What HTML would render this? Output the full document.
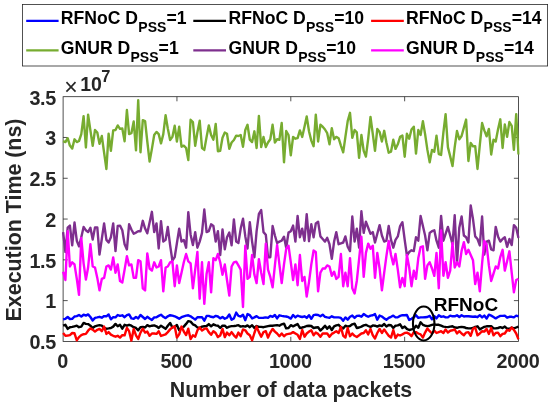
<!DOCTYPE html>
<html><head><meta charset="utf-8"><title>Execution Time</title>
<style>
html,body{margin:0;padding:0;background:#fff;}
svg{display:block;}
text{font-family:"Liberation Sans",sans-serif;font-weight:bold;fill:#262626;}
.lg{font-size:17.6px;fill:#000;}
.sub{font-size:14px;}
.tk{font-size:19.8px;letter-spacing:-0.3px;}
.ax{stroke:#262626;stroke-width:0.8;}
line.ax{fill:none;}
.ex{font-size:19.5px;}
.exs{font-size:16.4px;}
.lb{font-size:21.4px;}
.an{font-size:19px;fill:#000;}
</style></head><body>
<svg width="550" height="404" viewBox="0 0 550 404">
<rect x="0" y="0" width="550" height="404" fill="#fff"/>
<rect x="22.4" y="4.4" width="525.2" height="61.6" fill="#fff" class="ax"/>
<line x1="26.2" y1="20.9" x2="58.6" y2="20.9" stroke="#0000FF" stroke-width="2.4"/>
<text class="lg" x="60.8" y="24.2">RFNoC D<tspan class="sub" dy="7.9" dx="0.3">PSS</tspan><tspan dy="-7.9" dx="0.1">=1</tspan></text>
<line x1="193.3" y1="20.9" x2="226.0" y2="20.9" stroke="#000000" stroke-width="2.4"/>
<text class="lg" x="228.5" y="24.2">RFNoC D<tspan class="sub" dy="7.9" dx="0.3">PSS</tspan><tspan dy="-7.9" dx="0.1">=10</tspan></text>
<line x1="371.1" y1="20.9" x2="403.8" y2="20.9" stroke="#FF0000" stroke-width="2.4"/>
<text class="lg" x="406.1" y="24.2">RFNoC D<tspan class="sub" dy="7.9" dx="0.3">PSS</tspan><tspan dy="-7.9" dx="0.1">=14</tspan></text>
<line x1="26.2" y1="50.4" x2="58.6" y2="50.4" stroke="#77AC30" stroke-width="2.4"/>
<text class="lg" x="60.8" y="53.9">GNUR D<tspan class="sub" dy="7.9" dx="0.3">PSS</tspan><tspan dy="-7.9" dx="0.1">=1</tspan></text>
<line x1="193.3" y1="50.4" x2="226.0" y2="50.4" stroke="#7E2F8E" stroke-width="2.4"/>
<text class="lg" x="228.5" y="53.9">GNUR D<tspan class="sub" dy="7.9" dx="0.3">PSS</tspan><tspan dy="-7.9" dx="0.1">=10</tspan></text>
<line x1="371.1" y1="50.4" x2="403.8" y2="50.4" stroke="#FF00FF" stroke-width="2.4"/>
<text class="lg" x="406.1" y="53.9">GNUR D<tspan class="sub" dy="7.9" dx="0.3">PSS</tspan><tspan dy="-7.9" dx="0.1">=14</tspan></text>
<rect x="63.1" y="96.7" width="455.4" height="244.7" fill="#fff" class="ax"/>
<line x1="176.95" y1="341.4" x2="176.95" y2="336.8" class="ax"/>
<line x1="176.95" y1="96.7" x2="176.95" y2="101.3" class="ax"/>
<line x1="290.8" y1="341.4" x2="290.8" y2="336.8" class="ax"/>
<line x1="290.8" y1="96.7" x2="290.8" y2="101.3" class="ax"/>
<line x1="404.65" y1="341.4" x2="404.65" y2="336.8" class="ax"/>
<line x1="404.65" y1="96.7" x2="404.65" y2="101.3" class="ax"/>
<line x1="63.1" y1="300.62" x2="67.7" y2="300.62" class="ax"/>
<line x1="518.5" y1="300.62" x2="513.9" y2="300.62" class="ax"/>
<line x1="63.1" y1="259.83" x2="67.7" y2="259.83" class="ax"/>
<line x1="518.5" y1="259.83" x2="513.9" y2="259.83" class="ax"/>
<line x1="63.1" y1="219.05" x2="67.7" y2="219.05" class="ax"/>
<line x1="518.5" y1="219.05" x2="513.9" y2="219.05" class="ax"/>
<line x1="63.1" y1="178.27" x2="67.7" y2="178.27" class="ax"/>
<line x1="518.5" y1="178.27" x2="513.9" y2="178.27" class="ax"/>
<line x1="63.1" y1="137.48" x2="67.7" y2="137.48" class="ax"/>
<line x1="518.5" y1="137.48" x2="513.9" y2="137.48" class="ax"/>
<clipPath id="cp"><rect x="61.9" y="95.5" width="457.8" height="247.1"/></clipPath>
<g clip-path="url(#cp)" fill="none" stroke-width="2.4" stroke-linejoin="round">
<polyline points="63.1,319.3 65.4,318.8 67.7,317.0 69.9,319.0 72.2,318.8 74.5,316.5 76.8,316.1 79.0,315.0 81.3,316.5 83.6,314.7 85.9,315.6 88.1,314.4 90.4,317.0 92.7,320.5 95.0,317.9 97.3,317.4 99.5,316.8 101.8,317.7 104.1,316.1 106.4,316.3 108.6,314.4 110.9,319.3 113.2,317.2 115.5,317.4 117.7,315.0 120.0,315.9 122.3,315.3 124.6,317.2 126.9,315.2 129.1,314.4 131.4,318.4 133.7,318.8 136.0,317.0 138.2,318.4 140.5,315.0 142.8,317.0 145.1,319.0 147.3,316.8 149.6,318.4 151.9,319.9 154.2,317.4 156.5,317.2 158.7,315.9 161.0,314.7 163.3,316.8 165.6,318.1 167.8,316.3 170.1,315.2 172.4,315.6 174.7,316.3 176.9,317.4 179.2,318.8 181.5,317.2 183.8,316.3 186.1,315.6 188.3,315.3 190.6,316.3 192.9,317.9 195.2,319.6 197.4,317.2 199.7,317.2 202.0,317.2 204.3,320.7 206.6,315.9 208.8,315.9 211.1,316.8 213.4,317.2 215.7,315.9 217.9,316.5 220.2,318.4 222.5,317.0 224.8,318.8 227.0,317.7 229.3,314.4 231.6,319.7 233.9,318.4 236.2,312.6 238.4,315.9 240.7,316.5 243.0,314.7 245.3,320.2 247.5,314.1 249.8,315.2 252.1,318.4 254.4,317.4 256.6,316.1 258.9,317.9 261.2,317.9 263.5,317.7 265.8,317.4 268.0,317.9 270.3,315.9 272.6,316.8 274.9,315.0 277.1,318.4 279.4,315.3 281.7,315.9 284.0,316.3 286.2,316.5 288.5,317.2 290.8,318.6 293.1,315.0 295.4,317.4 297.6,315.6 299.9,316.5 302.2,317.0 304.5,316.3 306.7,317.9 309.0,315.2 311.3,318.8 313.6,315.2 315.8,314.7 318.1,315.0 320.4,316.3 322.7,314.7 325.0,316.8 327.2,317.4 329.5,317.7 331.8,316.3 334.1,317.4 336.3,317.4 338.6,317.4 340.9,317.9 343.2,320.7 345.4,317.4 347.7,319.7 350.0,316.8 352.3,315.6 354.6,317.9 356.8,315.9 359.1,315.6 361.4,316.8 363.7,314.1 365.9,315.6 368.2,316.8 370.5,315.6 372.8,315.3 375.0,314.1 377.3,319.7 379.6,315.6 381.9,316.5 384.2,318.4 386.4,319.7 388.7,317.9 391.0,316.8 393.3,315.6 395.5,317.4 397.8,317.2 400.1,315.9 402.4,315.2 404.7,315.3 406.9,315.0 409.2,319.9 411.5,318.8 413.8,317.4 416.0,315.2 418.3,317.9 420.6,317.4 422.9,317.4 425.1,317.2 427.4,317.0 429.7,315.9 432.0,319.3 434.3,316.1 436.5,318.4 438.8,315.2 441.1,316.8 443.4,316.3 445.6,317.4 447.9,317.4 450.2,315.6 452.5,316.3 454.7,316.3 457.0,315.3 459.3,317.0 461.6,315.2 463.9,316.5 466.1,316.1 468.4,316.3 470.7,316.5 473.0,316.8 475.2,316.5 477.5,317.2 479.8,315.2 482.1,317.4 484.3,315.6 486.6,318.6 488.9,314.7 491.2,315.6 493.5,317.0 495.7,318.4 498.0,317.0 500.3,315.9 502.6,315.9 504.8,315.6 507.1,317.7 509.4,316.8 511.7,316.8 513.9,317.4 516.2,315.6 518.5,316.3" stroke="#0000FF"/>
<polyline points="63.1,325.7 65.4,324.8 67.7,328.9 69.9,327.2 72.2,326.9 74.5,326.3 76.8,325.7 79.0,327.2 81.3,326.6 83.6,322.9 85.9,323.9 88.1,324.1 90.4,325.7 92.7,328.0 95.0,326.3 97.3,325.7 99.5,325.2 101.8,325.7 104.1,328.0 106.4,328.7 108.6,328.4 110.9,328.0 113.2,326.6 115.5,323.9 117.7,326.3 120.0,324.8 122.3,328.7 124.6,324.8 126.9,325.7 129.1,324.8 131.4,325.7 133.7,327.2 136.0,328.0 138.2,330.3 140.5,327.1 142.8,326.9 145.1,327.5 147.3,325.2 149.6,326.3 151.9,325.7 154.2,325.4 156.5,326.3 158.7,328.0 161.0,325.7 163.3,327.2 165.6,328.9 167.8,325.7 170.1,322.9 172.4,327.5 174.7,326.6 176.9,325.0 179.2,330.3 181.5,327.5 183.8,326.6 186.1,323.9 188.3,321.1 190.6,321.6 192.9,324.3 195.2,325.4 197.4,327.5 199.7,328.0 202.0,326.6 204.3,326.3 206.6,326.0 208.8,324.1 211.1,326.3 213.4,324.3 215.7,325.4 217.9,325.7 220.2,328.0 222.5,325.7 224.8,325.7 227.0,327.8 229.3,326.6 231.6,326.1 233.9,326.0 236.2,325.7 238.4,325.2 240.7,326.6 243.0,326.1 245.3,326.6 247.5,325.4 249.8,327.2 252.1,325.2 254.4,328.0 256.6,326.0 258.9,326.9 261.2,326.9 263.5,327.2 265.8,326.6 268.0,326.1 270.3,325.7 272.6,325.7 274.9,325.4 277.1,325.2 279.4,325.7 281.7,324.3 284.0,323.6 286.2,328.4 288.5,328.0 290.8,325.2 293.1,326.3 295.4,325.2 297.6,324.1 299.9,328.0 302.2,327.5 304.5,326.9 306.7,326.0 309.0,325.7 311.3,326.0 313.6,328.0 315.8,327.5 318.1,327.2 320.4,330.5 322.7,328.4 325.0,325.7 327.2,328.7 329.5,326.3 331.8,330.0 334.1,326.3 336.3,325.4 338.6,324.8 340.9,327.1 343.2,328.4 345.4,325.7 347.7,326.6 350.0,326.0 352.3,324.3 354.6,323.6 356.8,328.0 359.1,327.5 361.4,326.6 363.7,325.4 365.9,324.8 368.2,326.0 370.5,326.9 372.8,325.4 375.0,325.7 377.3,326.6 379.6,325.4 381.9,326.1 384.2,323.9 386.4,326.6 388.7,325.0 391.0,325.2 393.3,328.0 395.5,325.7 397.8,325.4 400.1,324.3 402.4,328.0 404.7,326.6 406.9,328.9 409.2,330.0 411.5,329.4 413.8,328.9 416.0,325.7 418.3,327.8 420.6,322.3 422.9,324.8 425.1,325.7 427.4,326.1 429.7,325.7 432.0,324.8 434.3,324.3 436.5,324.8 438.8,324.8 441.1,325.7 443.4,326.6 445.6,326.9 447.9,327.1 450.2,326.6 452.5,326.3 454.7,327.5 457.0,327.8 459.3,327.1 461.6,326.9 463.9,327.2 466.1,328.0 468.4,328.4 470.7,328.4 473.0,328.0 475.2,326.9 477.5,326.3 479.8,329.4 482.1,328.0 484.3,326.9 486.6,326.3 488.9,326.3 491.2,326.1 493.5,328.4 495.7,328.4 498.0,328.0 500.3,327.2 502.6,328.0 504.8,326.6 507.1,328.7 509.4,328.7 511.7,327.5 513.9,328.4 516.2,327.5 518.5,326.6" stroke="#000000"/>
<polyline points="63.1,333.0 65.4,335.8 67.7,335.5 69.9,335.1 72.2,333.0 74.5,333.3 76.8,340.3 79.0,337.1 81.3,335.1 83.6,334.2 85.9,333.9 88.1,330.7 90.4,328.4 92.7,329.6 95.0,331.6 97.3,329.8 99.5,328.9 101.8,331.2 104.1,326.6 106.4,333.9 108.6,332.1 110.9,334.6 113.2,335.8 115.5,336.7 117.7,335.8 120.0,337.6 122.3,335.1 124.6,335.3 126.9,327.8 129.1,331.2 131.4,340.6 133.7,328.9 136.0,335.3 138.2,339.0 140.5,332.6 142.8,328.7 145.1,332.6 147.3,331.6 149.6,335.8 151.9,333.5 154.2,333.5 156.5,333.9 158.7,331.2 161.0,336.0 163.3,335.1 165.6,334.4 167.8,332.1 170.1,329.4 172.4,327.5 174.7,326.3 176.9,337.6 179.2,334.4 181.5,326.6 183.8,331.5 186.1,335.1 188.3,328.7 190.6,339.0 192.9,335.3 195.2,336.7 197.4,330.3 199.7,327.5 202.0,330.5 204.3,328.9 206.6,328.4 208.8,332.1 211.1,334.8 213.4,331.2 215.7,333.0 217.9,337.1 220.2,335.5 222.5,328.9 224.8,337.1 227.0,332.6 229.3,335.3 231.6,332.1 233.9,335.3 236.2,337.6 238.4,332.6 240.7,336.2 243.0,329.4 245.3,330.3 247.5,333.5 249.8,335.3 252.1,340.3 254.4,333.0 256.6,326.6 258.9,332.1 261.2,336.7 263.5,332.1 265.8,331.2 268.0,337.6 270.3,332.6 272.6,328.9 274.9,331.6 277.1,333.5 279.4,336.2 281.7,333.5 284.0,336.2 286.2,334.4 288.5,333.9 290.8,333.5 293.1,332.1 295.4,333.5 297.6,334.8 299.9,339.0 302.2,330.0 304.5,336.7 306.7,333.5 309.0,331.6 311.3,330.3 313.6,335.3 315.8,332.6 318.1,333.9 320.4,336.7 322.7,333.5 325.0,333.5 327.2,333.5 329.5,336.7 331.8,333.9 334.1,332.6 336.3,331.2 338.6,333.0 340.9,327.1 343.2,335.8 345.4,337.6 347.7,328.0 350.0,336.2 352.3,333.5 354.6,335.8 356.8,337.0 359.1,335.3 361.4,333.5 363.7,333.0 365.9,330.3 368.2,334.4 370.5,328.9 372.8,335.3 375.0,338.5 377.3,333.0 379.6,328.9 381.9,333.0 384.2,329.4 386.4,332.6 388.7,335.8 391.0,337.6 393.3,330.0 395.5,338.1 397.8,334.6 400.1,335.5 402.4,334.4 404.7,333.0 406.9,332.6 409.2,333.9 411.5,336.2 413.8,332.1 416.0,332.1 418.3,333.5 420.6,334.4 422.9,337.6 425.1,332.6 427.4,328.4 429.7,331.2 432.0,333.5 434.3,330.7 436.5,333.0 438.8,332.1 441.1,331.2 443.4,333.0 445.6,329.4 447.9,332.6 450.2,330.7 452.5,330.3 454.7,329.4 457.0,333.5 459.3,331.2 461.6,333.5 463.9,335.3 466.1,332.6 468.4,332.1 470.7,335.8 473.0,328.7 475.2,327.5 477.5,335.3 479.8,333.5 482.1,331.2 484.3,331.6 486.6,328.9 488.9,333.9 491.2,328.0 493.5,335.3 495.7,333.0 498.0,332.6 500.3,336.2 502.6,333.9 504.8,333.5 507.1,330.0 509.4,330.7 511.7,327.5 513.9,329.8 516.2,333.5 518.5,339.4" stroke="#FF0000"/>
<polyline points="63.1,141.2 65.4,142.1 67.7,138.2 69.9,145.6 72.2,148.6 74.5,139.3 76.8,142.1 79.0,141.0 81.3,134.1 83.6,116.1 85.9,147.5 88.1,114.6 90.4,130.4 92.7,145.8 95.0,130.0 97.3,132.6 99.5,143.8 101.8,136.0 104.1,152.7 106.4,169.0 108.6,133.7 110.9,150.8 113.2,130.4 115.5,130.0 117.7,125.4 120.0,128.9 122.3,128.5 124.6,141.2 126.9,110.0 129.1,134.1 131.4,133.2 133.7,121.5 136.0,150.4 138.2,100.3 140.5,152.3 142.8,120.2 145.1,121.1 147.3,141.5 149.6,161.6 151.9,148.9 154.2,135.0 156.5,131.9 158.7,134.1 161.0,143.4 163.3,134.1 165.6,115.2 167.8,128.5 170.1,140.0 172.4,136.9 174.7,125.8 176.9,141.5 179.2,126.7 181.5,146.7 183.8,145.6 186.1,148.0 188.3,160.1 190.6,119.8 192.9,122.0 195.2,145.8 197.4,132.3 199.7,120.7 202.0,148.0 204.3,149.9 206.6,136.9 208.8,125.4 211.1,135.0 213.4,139.7 215.7,123.9 217.9,151.2 220.2,150.8 222.5,137.8 224.8,132.6 227.0,133.7 229.3,148.9 231.6,142.5 233.9,140.0 236.2,135.6 238.4,136.0 240.7,135.0 243.0,146.7 245.3,130.0 247.5,124.8 249.8,139.7 252.1,142.1 254.4,131.3 256.6,148.0 258.9,115.9 261.2,147.1 263.5,136.9 265.8,147.1 268.0,142.5 270.3,139.3 272.6,124.8 274.9,142.5 277.1,139.3 279.4,139.7 281.7,123.0 284.0,162.3 286.2,131.0 288.5,135.0 290.8,155.4 293.1,136.9 295.4,138.7 297.6,138.2 299.9,130.4 302.2,136.9 304.5,126.7 306.7,116.5 309.0,131.3 311.3,140.6 313.6,146.2 315.8,114.6 318.1,141.5 320.4,124.8 322.7,126.7 325.0,129.5 327.2,133.2 329.5,144.3 331.8,128.2 334.1,139.3 336.3,136.9 338.6,138.2 340.9,145.6 343.2,152.3 345.4,136.9 347.7,121.1 350.0,112.8 352.3,137.8 354.6,130.0 356.8,132.3 359.1,157.9 361.4,135.0 363.7,150.8 365.9,156.7 368.2,138.7 370.5,117.0 372.8,134.1 375.0,150.8 377.3,128.9 379.6,131.9 381.9,141.5 384.2,130.8 386.4,142.5 388.7,152.7 391.0,151.7 393.3,139.7 395.5,148.9 397.8,144.3 400.1,136.9 402.4,135.6 404.7,156.7 406.9,133.7 409.2,138.7 411.5,129.5 413.8,126.7 416.0,153.6 418.3,130.0 420.6,135.0 422.9,121.1 425.1,134.1 427.4,149.9 429.7,162.3 432.0,149.9 434.3,151.7 436.5,135.6 438.8,154.1 441.1,154.9 443.4,132.3 445.6,114.1 447.9,147.1 450.2,156.4 452.5,166.0 454.7,147.1 457.0,131.0 459.3,139.3 461.6,136.0 463.9,127.6 466.1,119.6 468.4,161.0 470.7,143.0 473.0,146.2 475.2,146.2 477.5,169.0 479.8,145.2 482.1,123.0 484.3,130.4 486.6,136.3 488.9,128.9 491.2,154.5 493.5,139.7 495.7,141.5 498.0,129.5 500.3,119.3 502.6,148.0 504.8,124.5 507.1,136.9 509.4,122.0 511.7,125.8 513.9,149.9 516.2,114.1 518.5,154.5" stroke="#77AC30"/>
<polyline points="63.1,232.1 65.4,252.0 67.7,227.7 69.9,225.6 72.2,245.4 74.5,222.5 76.8,240.7 79.0,246.4 81.3,237.3 83.6,226.9 85.9,230.3 88.1,232.1 90.4,227.7 92.7,239.5 95.0,227.4 97.3,227.4 99.5,254.6 101.8,239.0 104.1,223.4 106.4,239.9 108.6,242.5 110.9,237.3 113.2,223.4 115.5,251.1 117.7,226.0 120.0,225.6 122.3,230.3 124.6,244.2 126.9,249.4 129.1,224.3 131.4,229.5 133.7,233.8 136.0,232.6 138.2,231.2 140.5,231.2 142.8,220.8 145.1,228.6 147.3,233.3 149.6,222.5 151.9,211.8 154.2,232.1 156.5,223.4 158.7,248.5 161.0,221.1 163.3,241.6 165.6,239.9 167.8,226.9 170.1,245.1 172.4,260.7 174.7,257.2 176.9,243.3 179.2,228.6 181.5,241.6 183.8,239.9 186.1,247.7 188.3,212.1 190.6,234.7 192.9,245.1 195.2,232.1 197.4,247.7 199.7,241.6 202.0,232.9 204.3,209.5 206.6,232.1 208.8,231.2 211.1,224.3 213.4,226.0 215.7,241.6 217.9,231.2 220.2,255.1 222.5,229.5 224.8,249.4 227.0,237.3 229.3,232.6 231.6,245.4 233.9,219.4 236.2,241.6 238.4,243.0 240.7,228.6 243.0,218.7 245.3,236.4 247.5,248.5 249.8,222.2 252.1,241.6 254.4,257.2 256.6,231.2 258.9,213.9 261.2,210.1 263.5,232.1 265.8,234.7 268.0,257.2 270.3,257.2 272.6,226.0 274.9,235.5 277.1,243.0 279.4,241.6 281.7,240.7 284.0,236.7 286.2,247.7 288.5,232.6 290.8,231.2 293.1,225.6 295.4,241.6 297.6,215.9 299.9,237.3 302.2,228.6 304.5,240.7 306.7,214.2 309.0,241.2 311.3,224.3 313.6,237.3 315.8,223.4 318.1,221.7 320.4,236.4 322.7,239.0 325.0,241.6 327.2,237.8 329.5,244.2 331.8,258.9 334.1,241.6 336.3,232.1 338.6,244.2 340.9,243.3 343.2,242.5 345.4,236.4 347.7,246.8 350.0,251.1 352.3,216.5 354.6,241.6 356.8,228.6 359.1,247.7 361.4,211.3 363.7,232.9 365.9,221.7 368.2,227.7 370.5,233.8 372.8,232.1 375.0,242.5 377.3,233.8 379.6,225.1 381.9,235.5 384.2,241.6 386.4,240.7 388.7,226.0 391.0,239.9 393.3,247.7 395.5,239.9 397.8,236.4 400.1,226.0 402.4,222.2 404.7,239.9 406.9,255.5 409.2,252.0 411.5,250.3 413.8,251.1 416.0,237.3 418.3,240.7 420.6,215.9 422.9,226.0 425.1,235.5 427.4,250.3 429.7,232.9 432.0,231.2 434.3,230.3 436.5,240.7 438.8,247.7 441.1,215.9 443.4,240.7 445.6,233.8 447.9,226.9 450.2,235.5 452.5,244.2 454.7,215.3 457.0,263.3 459.3,227.7 461.6,216.5 463.9,235.5 466.1,237.3 468.4,242.5 470.7,205.5 473.0,219.1 475.2,236.4 477.5,239.0 479.8,245.4 482.1,216.5 484.3,254.6 486.6,241.6 488.9,240.7 491.2,249.4 493.5,250.3 495.7,226.9 498.0,236.4 500.3,241.6 502.6,239.0 504.8,237.3 507.1,246.8 509.4,239.0 511.7,245.1 513.9,225.1 516.2,227.7 518.5,238.1" stroke="#7E2F8E"/>
<polyline points="63.1,271.7 65.4,280.0 67.7,231.1 69.9,266.5 72.2,262.3 74.5,264.4 76.8,278.9 79.0,294.9 81.3,238.0 83.6,263.3 85.9,279.6 88.1,267.5 90.4,244.2 92.7,266.5 95.0,267.5 97.3,277.9 99.5,290.4 101.8,278.9 104.1,277.9 106.4,266.5 108.6,265.4 110.9,269.6 113.2,257.5 115.5,272.7 117.7,264.4 120.0,281.0 122.3,282.5 124.6,269.6 126.9,256.1 129.1,265.4 131.4,264.4 133.7,277.9 136.0,277.9 138.2,260.2 140.5,261.3 142.8,288.3 145.1,290.4 147.3,253.4 149.6,268.5 151.9,270.6 154.2,262.3 156.5,267.5 158.7,266.5 161.0,260.2 163.3,291.4 165.6,267.5 167.8,266.5 170.1,262.3 172.4,261.3 174.7,286.2 176.9,265.4 179.2,283.1 181.5,272.7 183.8,262.3 186.1,254.0 188.3,261.3 190.6,263.3 192.9,288.3 195.2,269.6 197.4,251.9 199.7,298.7 202.0,262.3 204.3,303.9 206.6,273.7 208.8,262.3 211.1,292.4 213.4,258.1 215.7,260.2 217.9,254.0 220.2,262.3 222.5,274.8 224.8,264.4 227.0,280.0 229.3,295.6 231.6,266.5 233.9,262.3 236.2,261.7 238.4,265.4 240.7,269.6 243.0,307.0 245.3,245.7 247.5,278.9 249.8,276.9 252.1,255.0 254.4,274.8 256.6,283.1 258.9,259.2 261.2,272.7 263.5,284.1 265.8,243.6 268.0,269.6 270.3,276.9 272.6,287.3 274.9,265.4 277.1,245.0 279.4,264.4 281.7,283.1 284.0,264.4 286.2,248.8 288.5,245.7 290.8,262.3 293.1,280.0 295.4,264.4 297.6,285.2 299.9,255.0 302.2,281.0 304.5,276.9 306.7,296.6 309.0,282.1 311.3,264.4 313.6,250.5 315.8,251.9 318.1,291.4 320.4,272.7 322.7,268.5 325.0,268.5 327.2,265.4 329.5,266.5 331.8,275.8 334.1,271.7 336.3,278.9 338.6,276.9 340.9,254.0 343.2,286.2 345.4,272.7 347.7,286.2 350.0,258.1 352.3,288.3 354.6,293.5 356.8,281.0 359.1,259.2 361.4,236.7 363.7,276.9 365.9,252.9 368.2,243.6 370.5,248.8 372.8,245.7 375.0,277.9 377.3,252.9 379.6,268.5 381.9,290.4 384.2,272.7 386.4,256.1 388.7,240.9 391.0,255.0 393.3,264.4 395.5,254.0 397.8,269.6 400.1,287.3 402.4,277.9 404.7,286.2 406.9,255.0 409.2,267.5 411.5,286.2 413.8,270.6 416.0,278.9 418.3,258.1 420.6,247.1 422.9,246.3 425.1,278.9 427.4,265.4 429.7,262.3 432.0,268.5 434.3,275.8 436.5,252.9 438.8,288.3 441.1,230.5 443.4,275.8 445.6,262.3 447.9,277.9 450.2,270.6 452.5,243.0 454.7,267.5 457.0,262.3 459.3,266.5 461.6,250.9 463.9,242.1 466.1,254.0 468.4,249.8 470.7,255.0 473.0,260.2 475.2,284.1 477.5,272.7 479.8,291.4 482.1,263.3 484.3,240.9 486.6,244.6 488.9,265.4 491.2,281.0 493.5,273.7 495.7,266.5 498.0,268.5 500.3,257.1 502.6,249.8 504.8,270.6 507.1,261.3 509.4,251.3 511.7,272.7 513.9,292.4 516.2,280.0 518.5,278.9" stroke="#FF00FF"/>
</g>
<text class="tk" x="62.60" y="368.0" text-anchor="middle">0</text>
<text class="tk" x="176.45" y="368.0" text-anchor="middle">500</text>
<text class="tk" x="290.30" y="368.0" text-anchor="middle">1000</text>
<text class="tk" x="404.15" y="368.0" text-anchor="middle">1500</text>
<text class="tk" x="518.00" y="368.0" text-anchor="middle">2000</text>
<text class="tk" x="56.0" y="349.20" text-anchor="end">0.5</text>
<text class="tk" x="56.0" y="308.42" text-anchor="end">1</text>
<text class="tk" x="56.0" y="267.63" text-anchor="end">1.5</text>
<text class="tk" x="56.0" y="226.85" text-anchor="end">2</text>
<text class="tk" x="56.0" y="186.07" text-anchor="end">2.5</text>
<text class="tk" x="56.0" y="145.28" text-anchor="end">3</text>
<text class="tk" x="56.0" y="104.50" text-anchor="end">3.5</text>
<text class="ex" x="64.2" y="91.2"><tspan style="font-weight:normal;font-size:23px" dy="3.8">×</tspan><tspan dx="2.5" dy="-3.8">10</tspan><tspan class="exs" dy="-8.8" dx="-0.6">7</tspan></text>
<text class="lb" x="291" y="396.6" text-anchor="middle">Number of data packets</text>
<text class="lb" transform="translate(20.9,321.4) rotate(-90)">Execution Time (ns)</text>
<ellipse cx="423.7" cy="323.5" rx="10.75" ry="16.95" fill="none" stroke="#000" stroke-width="2.1"/>
<text class="an" x="433.8" y="310.5">RFNoC</text>
</svg>
</body></html>
